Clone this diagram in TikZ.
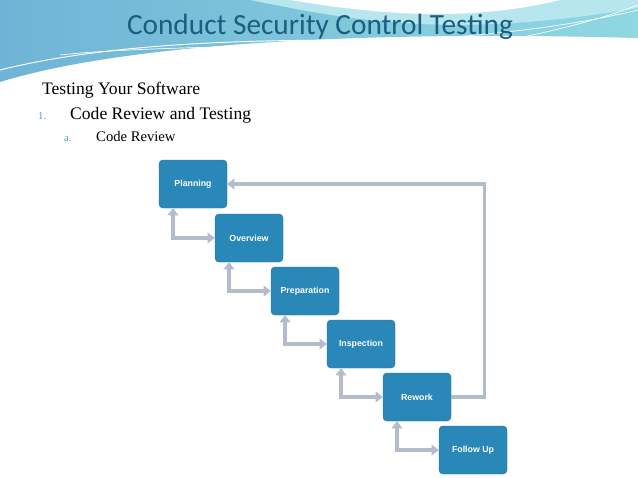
\documentclass[tikz,border=0pt]{standalone}
\usepackage{fontspec}
\setmainfont{Liberation Serif}
\newfontfamily\titlefont{Carlito}
\newfontfamily\boxfont{Liberation Sans}
\usetikzlibrary{arrows.meta}
\definecolor{boxblue}{HTML}{2A88B8}
\definecolor{arrowgray}{HTML}{B4BCCB}
\definecolor{titlecol}{HTML}{1B5E7E}
\definecolor{bullet}{HTML}{3BA9C9}
\definecolor{waveA}{HTML}{6FB4D6}
\definecolor{waveB}{HTML}{8FD8E2}
\definecolor{waveC}{HTML}{B8E6EE}
\tikzset{
  stepbox/.style={draw=boxblue!80!black, line width=0.4pt, fill=boxblue, rounded corners=3.5pt,
    minimum width=68*0.03cm, minimum height=48*0.03cm, text=white,
    font=\boxfont\fontsize{7.5}{9}\selectfont\bfseries, inner sep=0pt},
  conn/.style={draw=arrowgray, line width=2.6pt, -{Triangle[length=6pt,width=9pt]}},
  conn2/.style={draw=arrowgray, line width=2.6pt, {Triangle[length=6pt,width=9pt]}-{Triangle[length=6pt,width=9pt]}},
}
\begin{document}
\begin{tikzpicture}[x=0.03cm,y=-0.03cm]
\useasboundingbox (0,0) rectangle (638,478);
\fill[white] (0,0) rectangle (638,478);
% header waves
\shade[left color=waveA, right color=waveB] (0,0) -- (0,82) .. controls (120,45) and (350,30) .. (638,38) -- (638,0) -- cycle;
\fill[waveC] (250,0) .. controls (350,20) and (450,40) .. (638,8) -- (638,0) -- cycle;
\fill[white] (290,0) .. controls (380,15) and (470,22) .. (560,0) -- cycle;
\draw[white,line width=0.8pt] (0,70) .. controls (120,40) and (300,35) .. (500,45);
\draw[white,line width=0.6pt] (60,55) .. controls (200,40) and (450,55) .. (638,10);
\draw[white,line width=0.6pt] (480,45) .. controls (540,35) and (600,20) .. (638,5);
\node[font=\titlefont\fontsize{25}{28}\selectfont, text=titlecol] (title) at (320,27) {Conduct Security Control Testing};
% text
\node[anchor=base west, font=\fontsize{15}{17}\selectfont] (t1) at (38,94) {Testing Your Software};
\node[anchor=base west, font=\fontsize{9}{10}\selectfont, text=bullet, inner sep=0pt] (n1) at (38,119) {1.};
\node[anchor=base west, font=\fontsize{15}{17}\selectfont, inner sep=0pt] (t2) at (70,119) {Code Review and Testing};
\node[anchor=base west, font=\fontsize{9}{10}\selectfont, text=bullet, inner sep=0pt] (na) at (64,141) {a.};
\node[anchor=base west, font=\fontsize{12.5}{14}\selectfont, inner sep=0pt] (t3) at (96,141) {Code Review};
% diagram
\node[stepbox] (p) at (193,184) {Planning};
\node[stepbox] (o) at (249,238) {Overview};
\node[stepbox] (r) at (305,291) {Preparation};
\node[stepbox] (i) at (361,344) {Inspection};
\node[stepbox] (w) at (417,397) {Rework};
\node[stepbox] (f) at (473,450) {Follow Up};
\draw[conn2] ([xshift=-20*0.03cm]p.south) |- (o.west);
\draw[conn2] ([xshift=-20*0.03cm]o.south) |- (r.west);
\draw[conn2] ([xshift=-20*0.03cm]r.south) |- (i.west);
\draw[conn2] ([xshift=-20*0.03cm]i.south) |- (w.west);
\draw[conn2] ([xshift=-20*0.03cm]w.south) |- (f.west);
\draw[conn] (w.east) -- ++(33,0) |- (p.east);
\end{tikzpicture}
\end{document}
